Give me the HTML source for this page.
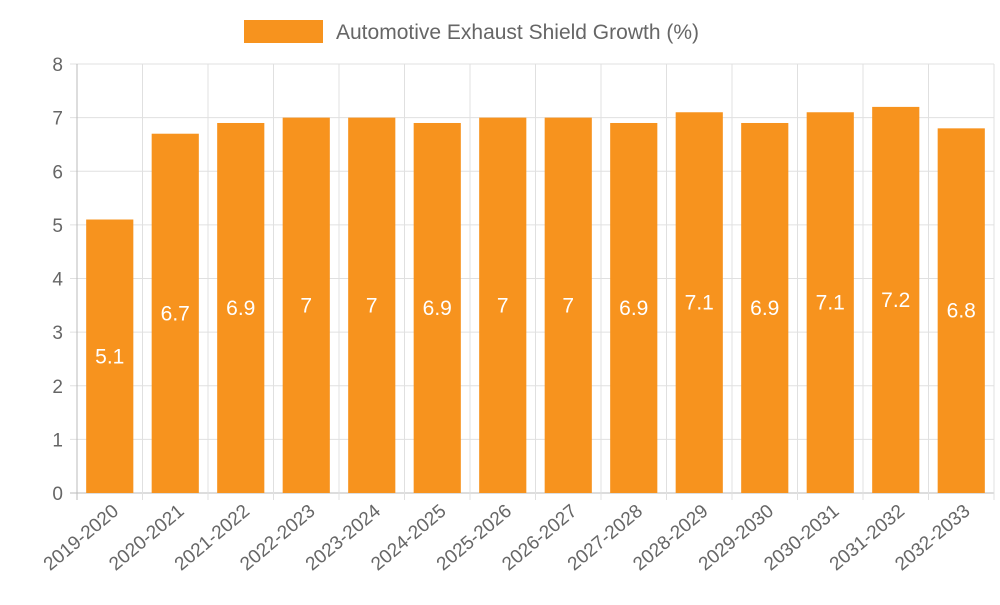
<!DOCTYPE html>
<html><head><meta charset="utf-8"><style>
body{margin:0;background:#fff;font-family:"Liberation Sans",sans-serif}
</style></head><body>
<svg id="c" width="1000" height="600" xmlns="http://www.w3.org/2000/svg"></svg>
<script>
const categories=["2019-2020","2020-2021","2021-2022","2022-2023","2023-2024","2024-2025","2025-2026","2026-2027","2027-2028","2028-2029","2029-2030","2030-2031","2031-2032","2032-2033"];
const values=[5.1,6.7,6.9,7,7,6.9,7,7,6.9,7.1,6.9,7.1,7.2,6.8];
const yTicks=[0,1,2,3,4,5,6,7,8];
const svg=document.getElementById('c');
const NS="http://www.w3.org/2000/svg";
const L=77,R=994,T=64,B=493,yMax=8;
const bw=(R-L)/categories.length;
const y=v=>B-(v/yMax)*(B-T);
const x=i=>L+i*bw;
function mk(t,a,p){const e=document.createElementNS(NS,t);for(const k in a)e.setAttribute(k,a[k]);(p||svg).appendChild(e);return e;}
const grid=mk('g',{});


yTicks.forEach(t=>{
  mk('line',{x1:L-7,x2:R,y1:y(t),y2:y(t),stroke:t===0?'#bbb':'#e0e0e0','stroke-width':1},grid);
  const tx=mk('text',{x:L-14,y:y(t)+7,'text-anchor':'end','font-size':19,fill:'#666'});
  
  
  tx.textContent=t;
});
for(let i=0;i<=categories.length;i++){
  mk('line',{x1:x(i),x2:x(i),y1:T,y2:B+7,stroke:i===0?'#bbb':'#e0e0e0','stroke-width':1},grid);
}
categories.forEach((c,i)=>{
  const cx=x(i)+bw/2,w=bw*0.72;
  const r=mk('rect',{x:cx-w/2,y:y(values[i]),width:w,height:B-y(values[i]),fill:'#f7931e'});
  
  
  const lb=mk('text',{x:cx,y:(y(values[i])+B)/2+7,'text-anchor':'middle','font-size':21,fill:'#fff'});
  
  
  lb.textContent=values[i];
  const xl=mk('text',{x:cx+10,y:B+20,'text-anchor':'end','font-size':19,fill:'#666',transform:`rotate(-40 ${cx+10} ${B+20})`});
  
  
  xl.textContent=c;
});
const lg=mk('g',{});


mk('rect',{x:244,y:20,width:79,height:23,fill:'#f7931e'},lg);
const lt=mk('text',{x:336,y:39,'font-size':21,fill:'#666'},lg);
lt.textContent='Automotive Exhaust Shield Growth (%)';
</script>
</body></html>
